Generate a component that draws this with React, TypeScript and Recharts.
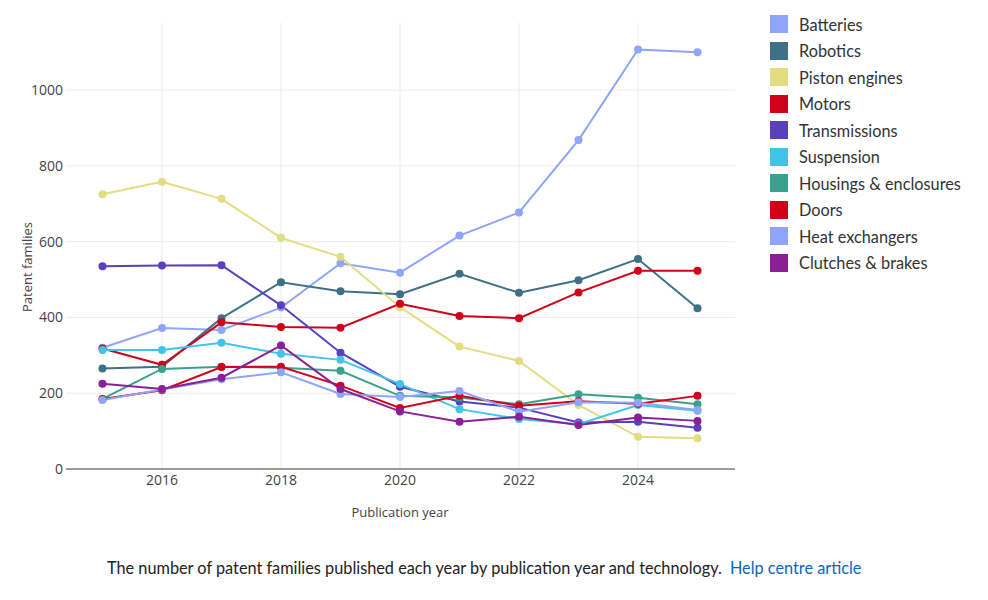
import { LineChart, Line, XAxis, YAxis, CartesianGrid } from "recharts";

const YEARS = [2015, 2016, 2017, 2018, 2019, 2020, 2021, 2022, 2023, 2024, 2025];
const X_TICKS = [2016, 2018, 2020, 2022, 2024];
const Y_TICKS = [0, 200, 400, 600, 800, 1000];

const batteries = [320, 372, 367, 426, 543, 518, 616, 677, 868, 1107, 1100];
const robotics = [265, 270, 398, 493, 469, 461, 515, 465, 498, 554, 424];
const pistonEngines = [725, 758, 713, 610, 560, 427, 323, 285, 169, 85, 81];
const motors = [318, 275, 387, 375, 373, 436, 404, 398, 466, 523, 523];
const transmissions = [535, 537, 538, 432, 307, 217, 178, 162, 123, 125, 109];
const suspension = [314, 314, 333, 304, 288, 224, 158, 132, 118, 169, 154];
const housings = [185, 264, 270, 267, 259, 193, 189, 171, 197, 188, 171];
const doors = [185, 208, 269, 270, 220, 161, 193, 167, 179, 172, 193];
const heatExchangers = [182, 210, 237, 255, 198, 190, 206, 151, 176, 175, 156];
const clutchesBrakes = [225, 211, 241, 326, 211, 152, 125, 138, 116, 136, 127];

const SERIES = [
  { key: "batteries", name: "Batteries", color: "#8fa5fc", values: batteries },
  { key: "robotics", name: "Robotics", color: "#3e7088", values: robotics },
  { key: "piston", name: "Piston engines", color: "#e3dd82", values: pistonEngines },
  { key: "motors", name: "Motors", color: "#d0021b", values: motors },
  { key: "transmissions", name: "Transmissions", color: "#5a3fbf", values: transmissions },
  { key: "suspension", name: "Suspension", color: "#40c5e9", values: suspension },
  { key: "housings", name: "Housings & enclosures", color: "#3aa18a", values: housings },
  { key: "doors", name: "Doors", color: "#d0021b", values: doors },
  { key: "heat", name: "Heat exchangers", color: "#8fa5fc", values: heatExchangers },
  { key: "clutches", name: "Clutches & brakes", color: "#8a1f97", values: clutchesBrakes },
];

const data = YEARS.map((year, i) => {
  const row: Record<string, number> = { year };
  SERIES.forEach((s) => {
    row[s.key] = s.values[i];
  });
  return row;
});

const tickFont = { fontSize: 14, fill: "#444", fontFamily: "'Open Sans', sans-serif" };
const titleFont = { fontFamily: "'Open Sans', sans-serif", fontSize: 13, color: "#444", whiteSpace: "nowrap" as const };

export default function App() {
  return (
    <div style={{ position: "absolute", left: 0, top: 0, width: 988, height: 600, background: "#fff" }}>
      <LineChart
        width={988}
        height={600}
        data={data}
        margin={{ top: 23, right: 253, bottom: 101, left: 6 }}
      >
        {/* grid lines only at the ticks, no frame round the plot */}
        <CartesianGrid stroke="#ebebeb" strokeWidth={1} syncWithTicks />
        <XAxis
          dataKey="year"
          type="number"
          domain={[2014.387, 2025.63]}
          ticks={X_TICKS}
          allowDataOverflow
          height={30}
          tickSize={0}
          tickMargin={6}
          tick={tickFont}
          axisLine={{ stroke: "#444", strokeWidth: 1 }}
        />
        <YAxis
          type="number"
          domain={[0, 1177]}
          ticks={Y_TICKS}
          allowDataOverflow
          width={60}
          tickSize={0}
          tickMargin={3}
          tickLine={false}
          axisLine={false}
          tick={tickFont}
        />
        {SERIES.map((s) => (
          <Line
            key={s.key}
            dataKey={s.key}
            name={s.name}
            stroke={s.color}
            strokeWidth={2}
            dot={{ r: 4, fill: s.color, stroke: s.color, strokeWidth: 0 }}
            activeDot={false}
            isAnimationActive={false}
          />
        ))}
      </LineChart>

      <div
        style={{
          ...titleFont,
          position: "absolute",
          left: 27,
          top: 267,
          transform: "translate(-50%, -50%) rotate(-90deg)",
        }}
      >
        Patent families
      </div>
      <div
        style={{
          ...titleFont,
          position: "absolute",
          left: 400,
          top: 512,
          transform: "translate(-50%, -50%)",
        }}
      >
        Publication year
      </div>

      {SERIES.map((s, i) => (
        <div
          key={s.key}
          style={{
            position: "absolute",
            left: 770,
            top: 24 + i * 26.5 - 10,
            height: 20,
            display: "flex",
            alignItems: "center",
            fontFamily: "Lato, sans-serif",
            fontSize: 16.3,
            color: "#333",
            whiteSpace: "nowrap",
          }}
        >
          <span style={{ width: 18, height: 18, background: s.color, display: "inline-block", marginRight: 11 }} />
          {s.name}
        </div>
      ))}

      <div
        style={{
          position: "absolute",
          left: 107,
          top: 558,
          fontFamily: "Lato, sans-serif",
          fontSize: 16.3,
          color: "#222",
          whiteSpace: "nowrap",
        }}
      >
        The number of patent families published each year by publication year and technology.
        <span style={{ color: "#0b66c0", marginLeft: 8 }}>Help centre article</span>
      </div>
    </div>
  );
}
